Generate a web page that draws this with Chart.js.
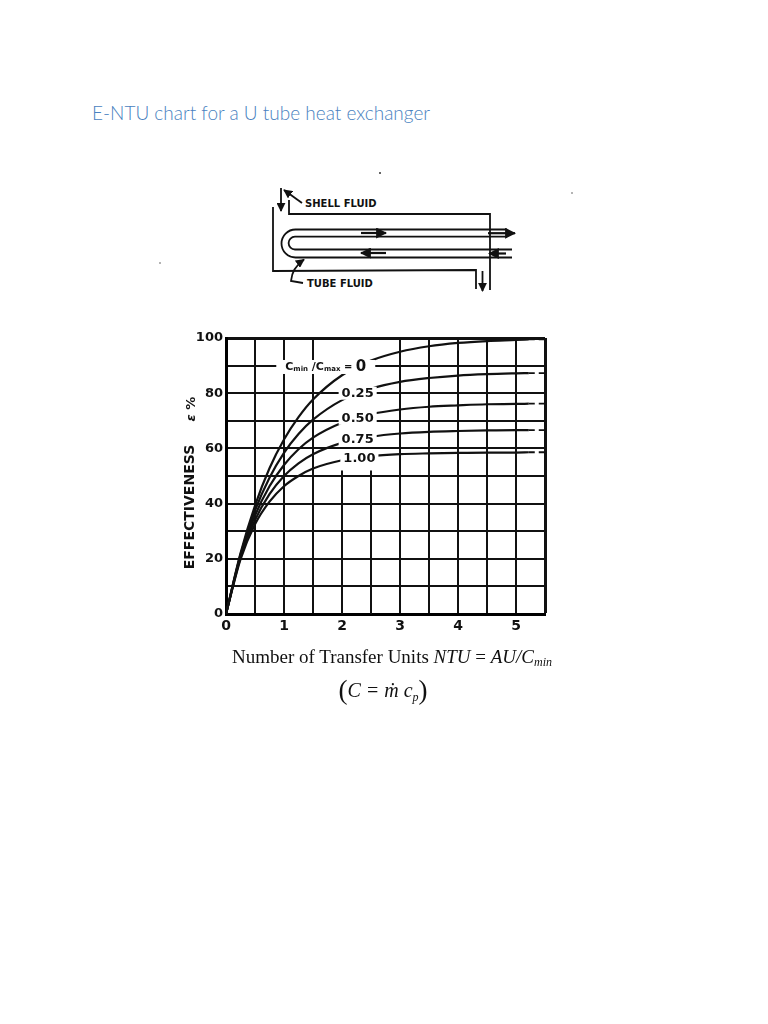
<!DOCTYPE html>
<html>
<head>
<meta charset="utf-8">
<title>E-NTU chart for a U tube heat exchanger</title>
<script src="https://cdn.jsdelivr.net/npm/chart.js@4.4.0/dist/chart.umd.min.js"></script>
<style>
  body { margin: 0; background: #fff; }
  #page { position: relative; width: 768px; height: 1024px; overflow: hidden; background: #fff; }
  .title { position: absolute; left: 92px; top: 101px; font: 300 19px Lato, "Open Sans", sans-serif; color: #4a82c0; white-space: nowrap; }
  #diagram { position: absolute; left: 0; top: 0; }
  #diagram text { font: bold 10px "DejaVu Sans", sans-serif; fill: #111; }
  #chartBox { position: absolute; left: 150px; top: 320px; width: 420px; height: 330px; }
  .ytitle { position: absolute; font: bold 14px "DejaVu Sans", sans-serif; color: #111; white-space: nowrap;
            transform: translate(-50%, -50%) rotate(-90deg); }
  .xtitle { position: absolute; left: 392px; top: 658px; transform: translate(-50%, -50%);
            font: 19px "Liberation Serif", "Times New Roman", serif; color: #111; white-space: nowrap; }
  .xtitle sub { font-size: 12px; vertical-align: -3px; }
  .formula { position: absolute; left: 383px; top: 690px; transform: translate(-50%, -50%);
             font: italic 20px "Liberation Serif", "Times New Roman", serif; color: #111; white-space: nowrap; }
  .formula .par { font-style: normal; font-size: 27px; vertical-align: -2px; }
  .formula sub { font-size: 12px; vertical-align: -4px; }
</style>
</head>
<body>
<div id="page">
  <div class="title">E-NTU chart for a U tube heat exchanger</div>

  <svg id="diagram" width="768" height="320" viewBox="0 0 768 320">
    <defs>
      <marker id="head" viewBox="0 0 10 10" refX="9" refY="5" markerWidth="5" markerHeight="5" orient="auto-start-reverse">
        <path d="M0,0 L10,5 L0,10 z" fill="#111"/>
      </marker>
    </defs>
    <g fill="none" stroke="#111" stroke-width="1.8">
      <!-- shell -->
      <polyline points="273,207 273,271 476,270 476,289"/>
      <polyline points="289,200 289,214 490,214 490,290"/>
      <line x1="281" y1="188" x2="281" y2="211" marker-end="url(#head)"/>
      <line x1="482.5" y1="271" x2="482.5" y2="291" marker-end="url(#head)"/>
      <!-- u tube -->
      <path d="M507,229.5 L295.5,229.5 A14,14 0 0 0 295.5,257.5 L512,257.5"/>
      <path d="M507,236.7 L295,236.7 A6.4,6.4 0 0 0 295,249.5 L512,249.5"/>
      <line x1="488" y1="233.2" x2="515" y2="233.2" stroke-width="2.2" marker-end="url(#head)"/>
      <line x1="506" y1="253.5" x2="489" y2="253.5" stroke-width="2.2" marker-end="url(#head)"/>
      <line x1="361" y1="233" x2="386" y2="233" stroke-width="2.2" marker-end="url(#head)"/>
      <line x1="386" y1="253" x2="361" y2="253" stroke-width="2.2" marker-end="url(#head)"/>
      <!-- leaders -->
      <line x1="302" y1="203" x2="284" y2="190" marker-end="url(#head)"/>
      <path d="M303,283 L291,281 Q292,268 304,259.5" marker-end="url(#head)"/>
    </g>
    <text x="305" y="206.5">SHELL FLUID</text>
    <text x="307" y="286.5">TUBE FLUID</text>
    <circle cx="380" cy="173" r="1" fill="#333"/>
    <circle cx="572" cy="193" r="0.8" fill="#555"/>
    <circle cx="160" cy="263" r="0.8" fill="#555"/>
  </svg>

  <div id="chartBox"><canvas id="entuChart" width="420" height="330"></canvas></div>

  <div class="ytitle" style="left:189px; top:507px;">EFFECTIVENESS</div>
  <div class="ytitle" style="left:190px; top:409px; font-size:13px;"><i>ε</i> %</div>

  <div class="xtitle">Number of Transfer Units <i>NTU</i> = <i>AU/C<sub>min</sub></i></div>
  <div class="formula"><span class="par">(</span>C = ṁ c<sub>p</sub><span class="par">)</span></div>
</div>

<script>
  // NTU values (x axis)
  const ntu = [0, 0.25, 0.5, 0.75, 1, 1.25, 1.5, 2, 2.5, 3, 3.5, 4, 4.5, 5, 5.22];

  // effectiveness in %, one array per Cmin/Cmax ratio
  const effR000 = [0, 22, 39.3, 52.8, 63.2, 71.3, 77.7, 86.5, 91.8, 95, 97, 98.2, 98.9, 99.3, 99.5];
  const effR025 = [0, 21.5, 37.5, 49.4, 58.4, 65.2, 70.4, 77.5, 81.6, 84.1, 85.5, 86.4, 86.9, 87.2, 87.3];
  const effR050 = [0, 21, 35.7, 46.3, 54, 59.7, 63.9, 69.3, 72.4, 74.1, 75.1, 75.6, 76, 76.1, 76.2];
  const effR075 = [0, 20.4, 34, 43.4, 50, 54.6, 57.9, 62, 64.2, 65.4, 66, 66.3, 66.5, 66.6, 66.6];
  const effR100 = [0, 19.8, 32.5, 40.7, 46.3, 50, 52.7, 55.7, 57.2, 57.9, 58.2, 58.4, 58.5, 58.5, 58.6];

  // dashed run-out past the end of the drawn curves
  const ntuRunout = [5.22, 5.5];
  const effRunout = [99.5, 87.3, 76.2, 66.6, 58.6];

  const ratioLabels = ['0', '0.25', '0.50', '0.75', '1.00'];
  const yTickLabels = [0, 20, 40, 60, 80, 100];
  const xTickLabels = [0, 1, 2, 3, 4, 5];

  const curves = [effR000, effR025, effR050, effR075, effR100];
  const toPoints = (xs, ys) => xs.map((x, i) => ({ x: x, y: ys[i] }));

  const datasets = [];
  curves.forEach((eff, i) => {
    datasets.push({
      label: 'Cmin/Cmax = ' + ratioLabels[i],
      data: toPoints(ntu, eff),
      borderColor: '#111',
      borderWidth: 2.2,
      pointRadius: 0,
      cubicInterpolationMode: 'monotone',
      fill: false
    });
    datasets.push({
      label: 'run-out ' + ratioLabels[i],
      data: toPoints(ntuRunout, [effRunout[i], effRunout[i]]),
      borderColor: '#111',
      borderWidth: 1.8,
      borderDash: [6, 4],
      pointRadius: 0,
      fill: false
    });
  });

  // vertical grid lines at NTU 2 and 2.5 stop below the label area
  const partialGrid = {
    id: 'partialGrid',
    beforeDatasetsDraw(chart) {
      const { ctx, scales: { x, y } } = chart;
      ctx.save();
      ctx.strokeStyle = '#111';
      ctx.lineWidth = 2;
      [2, 2.5].forEach(v => {
        const px = Math.round(x.getPixelForValue(v));
        ctx.beginPath();
        ctx.moveTo(px, y.getPixelForValue(0));
        ctx.lineTo(px, y.getPixelForValue(52));
        ctx.stroke();
      });
      ctx.restore();
    }
  };

  // curve labels on white patches
  const curveLabels = {
    id: 'curveLabels',
    afterDatasetsDraw(chart) {
      const { ctx, scales: { x, y } } = chart;
      ctx.save();
      ctx.textBaseline = 'middle';

      const spots = [[2.27, 80.0], [2.27, 70.9], [2.27, 63.3], [2.30, 56.4]];
      ctx.font = 'bold 13px "DejaVu Sans"';
      ratioLabels.slice(1).forEach((t, i) => {
        const cx = x.getPixelForValue(spots[i][0]);
        const cy = y.getPixelForValue(spots[i][1]);
        const w = ctx.measureText(t).width;
        ctx.fillStyle = '#fff';
        ctx.fillRect(cx - w / 2 - 3, cy - 6.5, w + 6, 13);
        ctx.fillStyle = '#111';
        ctx.textAlign = 'center';
        ctx.fillText(t, cx, cy + 0.5);
      });

      // "Cmin /Cmax = 0"
      const parts = [
        ['C', 'bold 11px "DejaVu Sans"', 0],
        ['min', 'bold 7px "DejaVu Sans"', 2],
        [' /', 'bold 11px "DejaVu Sans"', 0],
        ['C', 'bold 11px "DejaVu Sans"', 0],
        ['max', 'bold 7px "DejaVu Sans"', 2],
        [' = ', 'bold 10px "DejaVu Sans"', 0],
        [ratioLabels[0], 'bold 15px "DejaVu Sans"', 0]
      ];
      let total = 0;
      parts.forEach(p => { ctx.font = p[1]; total += ctx.measureText(p[0]).width; });
      const cx = x.getPixelForValue(1.72);
      const cy = y.getPixelForValue(89.5);
      ctx.fillStyle = '#fff';
      ctx.fillRect(cx - total / 2 - 9, cy - 7, total + 18, 14);
      ctx.fillStyle = '#111';
      ctx.textAlign = 'left';
      let px = cx - total / 2;
      parts.forEach(p => {
        ctx.font = p[1];
        ctx.fillText(p[0], px, cy + p[2] + 0.5);
        px += ctx.measureText(p[0]).width;
      });
      ctx.restore();
    }
  };

  new Chart(document.getElementById('entuChart'), {
    type: 'line',
    data: { datasets: datasets },
    options: {
      responsive: false,
      animation: false,
      layout: { padding: { top: 18, right: 25, left: 0, bottom: 0 } },
      plugins: { legend: { display: false }, tooltip: { enabled: false } },
      scales: {
        x: {
          type: 'linear',
          min: 0,
          max: 5.5,
          afterFit: s => { s.height = 36; },
          ticks: {
            stepSize: 0.5,
            autoSkip: false,
            maxRotation: 0,
            padding: 4,
            color: '#111',
            font: { family: 'DejaVu Sans', size: 14, weight: 'bold' },
            callback: v => xTickLabels.includes(v) ? String(v) : ''
          },
          grid: {
            drawTicks: false,
            color: c => (c.tick && (c.tick.value === 2 || c.tick.value === 2.5)) ? 'rgba(0,0,0,0)' : '#111',
            lineWidth: c => (c.tick && c.tick.value === 5.5) ? 3 : 2
          },
          border: { display: true, color: '#000', width: 3 }
        },
        y: {
          min: 0,
          max: 100,
          afterFit: s => { s.width = 76; },
          ticks: {
            stepSize: 10,
            padding: 3,
            color: '#111',
            font: { family: 'DejaVu Sans', size: 13, weight: 'bold' },
            callback: v => yTickLabels.includes(v) ? String(v) : ''
          },
          grid: {
            drawTicks: false,
            color: '#111',
            lineWidth: c => (c.tick && c.tick.value === 100) ? 3 : 2
          },
          border: { display: true, color: '#000', width: 3 }
        }
      }
    },
    plugins: [partialGrid, curveLabels]
  });
</script>
</body>
</html>
